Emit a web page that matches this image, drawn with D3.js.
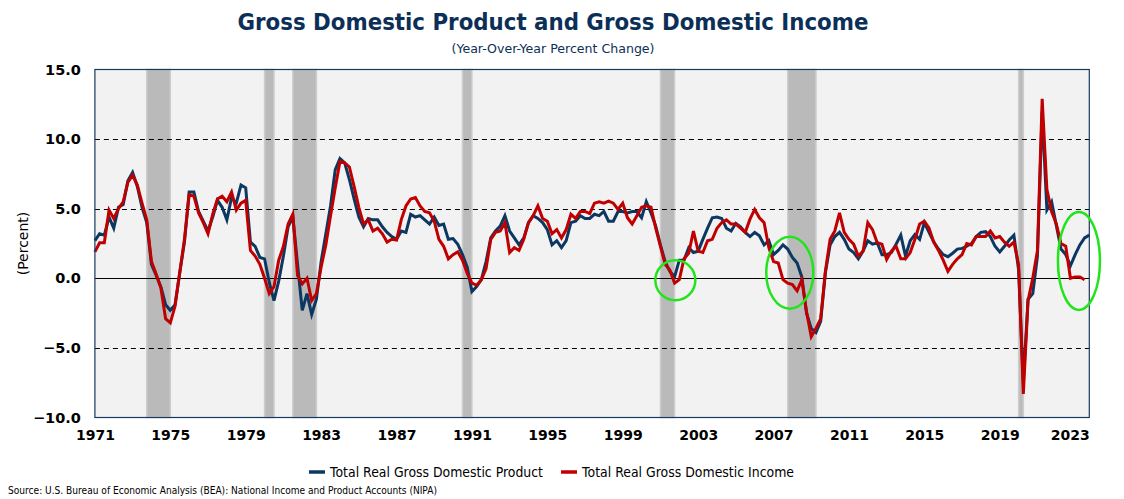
<!DOCTYPE html>
<html>
<head>
<meta charset="utf-8">
<script src="https://cdn.jsdelivr.net/npm/d3@7"></script>
<style>
  body { margin: 0; background: #fff; }
  svg { display: block; font-family: "DejaVu Sans", Verdana, sans-serif; }
</style>
</head>
<body>
<svg id="chart" width="1124" height="499"></svg>
<script>
// first quarter of the series, data is quarterly
var startYear = 1971;
var yearTicks = [1971, 1975, 1979, 1983, 1987, 1991, 1995, 1999, 2003, 2007, 2011, 2015, 2019, 2023];
var valueTicks = [-10, -5, 0, 5, 10, 15];

// Real GDP, year-over-year % change, 1971Q1 .. 2023Q4
var gdp = [
  2.7, 3.2, 3.1, 4.4,   3.6, 5.1, 5.3, 7.0,   7.6, 6.6, 5.1, 4.0,   1.0, 0.2, -0.6, -1.9,
  -2.3, -1.9, 0.4, 2.6, 6.2, 6.2, 4.8, 4.1,   3.4, 4.4, 5.6, 5.1,   4.2, 5.8, 5.4, 6.7,
  6.5, 2.6, 2.3, 1.5,   1.4, -0.3, -1.6, -0.2, 1.6, 3.7, 4.4, 1.0,  -2.3, -1.1, -2.6, -1.5,
  1.2, 3.2, 5.2, 7.8,   8.6, 8.3, 7.1, 5.7,   4.4, 3.7, 4.3, 4.2,   4.2, 3.7, 3.3, 3.0,
  2.8, 3.4, 3.3, 4.6,   4.4, 4.5, 4.2, 3.9,   4.4, 3.8, 3.9, 2.8,   2.85, 2.45, 1.7, 0.8,
  -0.95, -0.6, -0.1, 1.2, 2.9, 3.4, 3.75, 4.5, 3.4, 2.9, 2.4, 2.9,  4.0, 4.5, 4.3, 4.0,
  3.5, 2.4, 2.7, 2.2,   2.7, 4.0, 4.1, 4.5,   4.3, 4.3, 4.6, 4.5,   4.8, 4.1, 4.1, 4.8,
  4.8, 4.7, 4.8, 4.8,   4.35, 5.5, 4.7, 3.75, 2.4, 1.2, 0.5, 0.1,   1.3, 1.3, 2.2, 1.85,
  1.95, 2.8, 3.6, 4.35, 4.4, 4.3, 3.6, 3.4,   3.95, 3.7, 3.3, 3.0,  3.3, 3.05, 2.4, 2.7,
  1.7, 2.0, 2.4, 2.1,   1.5, 1.1, 0.1, -2.5,  -3.6, -3.9, -3.1, 0.4, 2.4, 3.0, 3.3, 2.8,
  2.1, 1.85, 1.4, 1.95, 2.7, 2.45, 2.55, 1.7, 1.7, 1.85, 2.45, 3.1, 1.6, 2.7, 3.15, 2.8,
  4.0, 3.3, 2.6, 2.1,   1.7, 1.55, 1.8, 2.1,  2.15, 2.3, 2.5, 3.0,  3.3, 3.35, 3.0, 2.3,
  1.9, 2.3, 2.75, 3.1,  0.6, -7.5, -1.5, -1.1, 1.6, 12.0, 4.9, 5.5, 3.8, 2.1, 1.7, 0.9,
  1.7, 2.4, 2.9, 3.1
];

// Real GDI, year-over-year % change, 1971Q1 .. 2023Q3
var gdi = [
  1.9, 2.55, 2.55, 4.9, 4.3, 5.0, 5.5, 6.9,   7.4, 6.7, 5.4, 4.2,   1.2, 0.3, -0.7, -2.9,
  -3.2, -2.0, 0.4, 2.8, 6.0, 5.9, 4.7, 4.0,   3.2, 4.6, 5.7, 5.9,   5.5, 6.2, 4.9, 5.4,
  5.6, 2.0, 1.6, 1.0,   0.0, -1.1, -0.6, 1.3, 2.3, 3.9, 4.6, 0.2,   -0.4, 0.0, -1.6, -1.1,
  0.8, 2.4, 4.5, 6.5,   8.4, 8.3, 8.0, 6.6,   5.1, 3.9, 4.2, 3.4,   3.6, 3.2, 2.6, 2.8,
  2.75, 4.2, 5.2, 5.7,  5.8, 5.2, 4.8, 4.7,   4.1, 2.8, 2.3, 1.4,   1.7, 1.9, 1.3, 0.35,
  -0.35, -0.5, -0.1, 0.7, 2.8, 3.3, 3.4, 4.0, 1.85, 2.2, 2.0, 2.8,  4.0, 4.5, 5.2, 4.3,
  4.1, 3.2, 3.5, 2.9,   3.5, 4.6, 4.3, 4.8,   4.8, 4.65, 5.4, 5.5,  5.4, 5.55, 5.4, 4.95,
  5.4, 4.35, 3.9, 4.5,  5.1, 5.2, 5.1, 3.6,   2.3, 1.0, 0.6, -0.35, -0.1, 1.4, 1.8, 3.4,
  1.95, 1.85, 2.7, 2.8, 3.6, 4.0, 4.2, 3.9,   3.9, 3.6, 3.3, 4.25,  4.95, 4.35, 4.0, 2.2,
  1.2, 1.1, -0.1, -0.35, -0.45, -0.9, -0.1, -2.4, -4.2, -3.6, -2.9, 0.5, 2.8, 3.4, 4.7, 3.3,
  2.8, 2.45, 1.6, 1.95, 4.0, 3.5, 2.55, 2.45, 1.35, 1.95, 2.3, 1.4,  1.4, 1.85, 2.8, 3.9,
  4.1, 3.6, 2.6, 2.0,   1.3, 0.5, 1.0, 1.4,   1.7, 2.5, 2.4, 3.0,   3.0, 3.0, 3.4, 2.9,
  3.0, 2.6, 2.3, 2.6,   1.0, -8.3, -1.6, 0.0, 2.0, 12.9, 6.4, 4.8,  3.9, 2.5, 2.3, 0.0,
  0.1, 0.1, -0.1
];

// NBER recessions (start, end) in fractional years
var recessions = [[1973.75, 1975.0], [1980.0, 1980.5], [1981.5, 1982.75], [1990.5, 1991.0],
                  [2001.0, 2001.75], [2007.75, 2009.25], [2020.0, 2020.25]];

// hand-drawn green rings on the picture (centre in data units)
var rings = [
  { t: 2001.79, v: -0.14, rx: 20, ry: 20 },
  { t: 2007.86, v: 0.4, rx: 23.5, ry: 36 },
  { t: 2023.2, v: 1.25, rx: 21, ry: 49 }
];

var series = [
  { name: 'Total Real Gross Domestic Product', values: gdp, color: '#0b3760' },
  { name: 'Total Real Gross Domestic Income', values: gdi, color: '#c00000' }
];

var svg = d3.select('#chart');
var plotL = 94.9, plotR = 1089.3, plotT = 69.5, plotB = 417.5;

var x = d3.scaleLinear().domain([startYear, 2023.75]).range([plotL, plotR]);
var y = d3.scaleLinear().domain([-10, 15]).range([plotB, plotT]);
var qt = function(i) { return startYear + i / 4; };

// titles
svg.append('text').attr('x', 553).attr('y', 30).attr('text-anchor', 'middle')
  .attr('font-size', 23).attr('font-weight', 'bold').attr('fill', '#0c2f57')
  .attr('textLength', 631).attr('lengthAdjust', 'spacingAndGlyphs')
  .text('Gross Domestic Product and Gross Domestic Income');
svg.append('text').attr('x', 553).attr('y', 53).attr('text-anchor', 'middle')
  .attr('font-size', 12.5).attr('fill', '#0c2f57')
  .attr('textLength', 203).attr('lengthAdjust', 'spacingAndGlyphs')
  .text('(Year-Over-Year Percent Change)');

// plot background
svg.append('rect').attr('x', plotL).attr('y', plotT).attr('width', plotR - plotL).attr('height', plotB - plotT)
  .attr('fill', '#f2f2f2');

// recession bands
svg.append('g').selectAll('rect').data(recessions).enter().append('rect')
  .attr('x', function(d) { return x(d[0]); })
  .attr('y', plotT)
  .attr('width', function(d) { return x(d[1]) - x(d[0]); })
  .attr('height', plotB - plotT)
  .attr('fill', '#bababa')
  .attr('stroke', '#cdcdcd').attr('stroke-width', 1.5);

// grid lines
svg.append('g').selectAll('line').data(valueTicks.filter(function(v) { return v > -10 && v < 15; })).enter()
  .append('line')
  .attr('x1', plotL).attr('x2', plotR)
  .attr('y1', function(d) { return Math.round(y(d)) + 0.5; })
  .attr('y2', function(d) { return Math.round(y(d)) + 0.5; })
  .attr('stroke', '#000').attr('stroke-width', 1)
  .attr('stroke-dasharray', function(d) { return d === 0 ? null : '5,4'; });

// lines
var line = d3.line()
  .x(function(d, i) { return x(qt(i)); })
  .y(function(d) { return y(d); });

svg.append('g').selectAll('path').data(series).enter().append('path')
  .attr('d', function(s) { return line(s.values); })
  .attr('fill', 'none')
  .attr('stroke', function(s) { return s.color; })
  .attr('stroke-width', 3)
  .attr('stroke-linejoin', 'miter');

// frame
svg.append('rect').attr('x', plotL).attr('y', plotT).attr('width', plotR - plotL).attr('height', plotB - plotT)
  .attr('fill', 'none').attr('stroke', '#143a60').attr('stroke-width', 1.2);

// axes
var yAxis = svg.append('g').attr('transform', 'translate(' + plotL + ',0)')
  .call(d3.axisLeft(y).tickValues(valueTicks).tickFormat(d3.format('.1f')).tickSize(0).tickPadding(14));
var xAxis = svg.append('g').attr('transform', 'translate(0,' + plotB + ')')
  .call(d3.axisBottom(x).tickValues(yearTicks).tickFormat(d3.format('d')).tickSize(0).tickPadding(13));
[yAxis, xAxis].forEach(function(a) {
  a.select('.domain').remove();
  a.selectAll('text').attr('font-family', '"DejaVu Sans", Verdana, sans-serif')
    .attr('font-weight', 'bold').attr('fill', '#000');
});
yAxis.selectAll('text').attr('font-size', 14.5);
xAxis.selectAll('text').attr('font-size', 14);
// last year label is pulled inside the frame
xAxis.selectAll('.tick').filter(function(d) { return d === 2023; }).select('text')
  .attr('text-anchor', 'end').attr('x', plotR - x(2023));

svg.append('text')
  .attr('transform', 'translate(28,' + ((plotT + plotB) / 2) + ') rotate(-90)')
  .attr('text-anchor', 'middle').attr('font-size', 14).attr('fill', '#000')
  .text('(Percent)');

// green rings
svg.append('g').selectAll('ellipse').data(rings).enter().append('ellipse')
  .attr('cx', function(d) { return x(d.t); })
  .attr('cy', function(d) { return y(d.v); })
  .attr('rx', function(d) { return d.rx; })
  .attr('ry', function(d) { return d.ry; })
  .attr('fill', 'none').attr('stroke', '#22e41c').attr('stroke-width', 2.5);

// legend
var legendX = [309, 561], legendW = [213, 212];
var lg = svg.append('g').selectAll('g').data(series).enter().append('g')
  .attr('transform', function(d, i) { return 'translate(' + legendX[i] + ',472)'; });
lg.append('line').attr('x1', 0).attr('x2', 16).attr('y1', 0).attr('y2', 0)
  .attr('stroke', function(d) { return d.color; }).attr('stroke-width', 3.5);
lg.append('text').attr('x', 21).attr('y', 4.5).attr('font-size', 13.5).attr('fill', '#000')
  .attr('textLength', function(d, i) { return legendW[i]; }).attr('lengthAdjust', 'spacingAndGlyphs')
  .text(function(d) { return d.name; });

svg.append('text').attr('x', 8).attr('y', 494).attr('font-size', 10).attr('fill', '#000')
  .attr('textLength', 429).attr('lengthAdjust', 'spacingAndGlyphs')
  .text('Source: U.S. Bureau of Economic Analysis (BEA): National Income and Product Accounts (NIPA)');
</script>
</body>
</html>
